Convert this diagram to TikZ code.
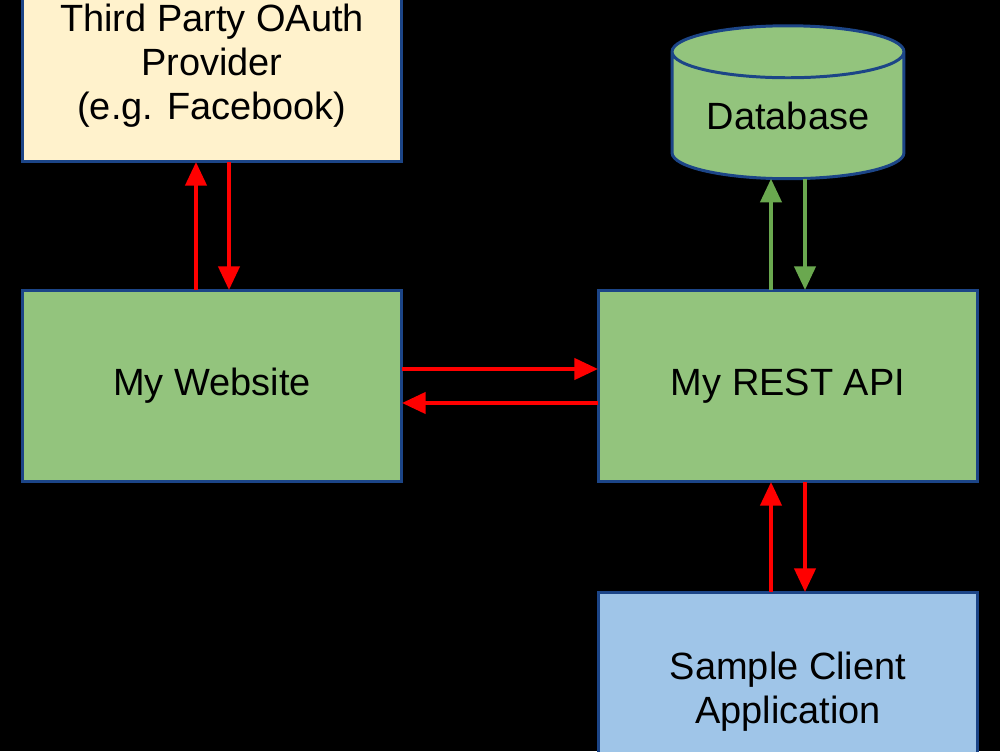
\documentclass[tikz,border=0pt]{standalone}
\usepackage{fontspec}
\setmainfont{Liberation Sans}
\usepackage{tikz}
\usetikzlibrary{arrows.meta,%
                shapes.geometric,positioning}
\definecolor{provfill}{HTML}{FFF2CC}
\definecolor{boxgreen}{HTML}{93C47D}
\definecolor{boxblue}{HTML}{9FC5E8}
\definecolor{boxline}{HTML}{1C4587}
\definecolor{arrgreen}{HTML}{6AA84F}

\begin{document}
\begin{tikzpicture}[x=0.02cm, y=0.02cm]
  \tikzset{BoxStyle/.style = {shape          = rectangle,
                              draw           = boxline,
                              line width     = 1.7pt,
                              text           = black,
                              align          = center,
                              inner sep      = 0pt,
                              outer sep      = 0pt,
                              font           = \fontsize{21.6}{25}\selectfont,
                              minimum width  = 7.6cm,
                              minimum height = 3.84cm}}
  \tikzset{DbStyle/.style = {cylinder, shape border rotate=90,
                             draw=boxline, fill=boxgreen,
                             line width = 1.7pt,
                             aspect     = 0.32,
                             inner sep  = 0pt, outer sep = 0pt,
                             font       = \fontsize{21.6}{25}\selectfont,
                             minimum width  = 4.64cm,
                             minimum height = 3.06cm}}
  \tikzset{RedArrow/.style = {draw=red, line width=2.3pt,
                              -{Triangle[width=12pt, length=13.5pt]}}}
  \tikzset{GreenArrow/.style = {RedArrow, draw=arrgreen, fill=arrgreen}}
  \fill[black] (0,0) rectangle (1000,751);
  \useasboundingbox (0,0) rectangle (1000,751);
  \clip (0,0) rectangle (1000,751);
  %%% BOXES %%%
  \node[BoxStyle, fill=provfill](prov) at (212,685){Third Party OAuth\\Provider\\(e.g. Facebook)};
  \node[BoxStyle, fill=boxgreen](web) at (212,365){My Website};
  \node[BoxStyle, fill=boxgreen](api) at (788,365){My REST API};
  \node[DbStyle](db) at (788,635){Database};
  \node[BoxStyle, fill=boxblue, minimum height=4cm](client) at (788,59){Sample Client\\Application};
  %%% WEBSITE <-> PROVIDER %%%
  \draw[RedArrow]([xshift=-0.32cm]web.north) to ([xshift=-0.32cm]web.north |- prov.south);
  \draw[RedArrow]([xshift=0.34cm]prov.south) to ([xshift=0.34cm]prov.south |- web.north);
  %%% WEBSITE <-> API %%%
  \draw[RedArrow]([yshift=0.34cm]web.east) to ([yshift=0.34cm]web.east -| api.west);
  \draw[RedArrow]([yshift=-0.34cm]api.west) to ([yshift=-0.34cm]api.west -| web.east);
  %%% API <-> DATABASE %%%
  \draw[GreenArrow]([xshift=-0.34cm]api.north) to ([xshift=-0.34cm]api.north |- db.south);
  \draw[GreenArrow]([xshift=0.34cm]db.south) to ([xshift=0.34cm]db.south |- api.north);
  %%% API <-> CLIENT %%%
  \draw[RedArrow]([xshift=-0.34cm]client.north) to ([xshift=-0.34cm]client.north |- api.south);
  \draw[RedArrow]([xshift=0.34cm]api.south) to ([xshift=0.34cm]api.south |- client.north);
\end{tikzpicture}
\end{document}
